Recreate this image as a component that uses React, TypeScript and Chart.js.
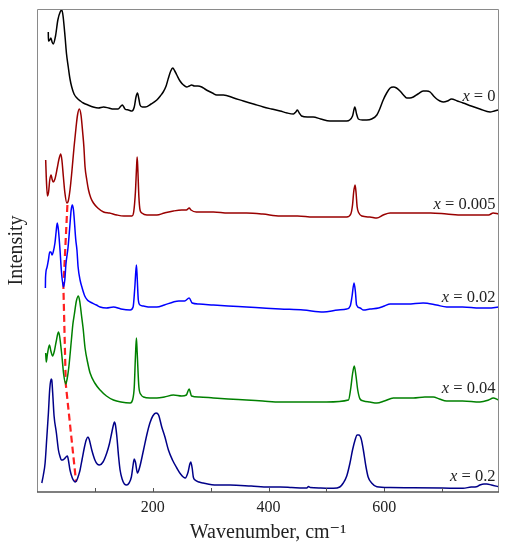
import React, { useEffect, useRef } from "react";
import { Chart, registerables } from "chart.js";

Chart.register(...registerables);

// ---- Data (wavenumber, offset intensity) ----
const wn0 = [19.5, 19.8, 22, 24, 26, 28, 32, 36, 40, 43, 45, 48.5, 51, 54, 57, 60, 64, 69, 75, 80, 88, 97, 106, 115, 124, 132, 140, 145, 147.5, 150, 152, 158, 164, 168, 171, 173.5, 176, 178, 182, 187, 197, 207, 213, 218, 223, 227, 231, 234.5, 238, 241.5, 247, 253, 258.7, 263, 267, 272, 278, 284.5, 290, 296, 303, 310.5, 316, 322, 340, 356.5, 374, 391, 405, 420, 432, 443, 447, 449.7, 453, 457, 467, 477, 490, 506, 520, 535, 540, 545, 549, 552, 555, 562, 569.6, 578, 587, 592, 598, 604, 610, 615.6, 621, 627, 633, 638.7, 644, 650, 658, 667, 673, 679, 685, 690.5, 696, 702, 709, 716, 726, 736, 750, 765, 782.5, 790, 797];
const int0 = [460, 451, 452, 454, 450, 448, 456, 472, 480, 482, 476, 455, 438, 425, 413, 405, 398, 394, 391, 389, 387, 385, 384, 385, 384, 383, 383, 386, 387, 385, 383, 382, 381, 385, 395, 399, 393, 387, 385, 385, 388, 392, 396, 400, 406, 414, 421, 424, 421, 417, 411, 407, 405, 406, 407, 406, 406, 405, 403, 401, 399, 397, 397, 397, 394, 391, 388, 385, 383, 381, 379, 378, 380, 382, 379, 376, 375, 375, 373, 371, 371, 371, 372, 376, 385, 378, 373, 372, 372, 373, 377, 383, 392, 399, 404, 405, 404, 401, 397, 394, 394, 395, 398, 401, 401, 400, 396, 393, 391, 390, 391, 393, 391, 389, 386, 383, 380, 381, 382];

const wn005 = [15, 16, 18, 20, 22, 24.4, 26, 28, 31, 35, 38, 41, 43, 45.6, 48, 51.5, 54, 57, 60, 64, 67.5, 70, 73, 76, 79, 81, 83, 86, 89, 93, 97.5, 105, 115, 125, 138, 150, 160, 164, 167, 170, 172, 173, 174, 176, 178, 181, 190, 207, 220, 235.6, 250, 258, 263, 266, 275, 290, 304.6, 330, 362, 390, 420, 450, 477, 505, 535, 542, 545, 547, 549.4, 551, 553, 556, 561, 575, 587, 598, 610, 630, 650, 680, 707.6, 735, 765, 780, 788, 797];
const int005 = [332, 315, 296, 300, 312, 317, 313, 310, 313, 324, 333, 338, 332, 315, 300, 289, 291, 302, 319, 345, 365, 377, 383, 377, 359, 345, 325, 312, 302, 294, 289, 284, 280, 279, 277, 276, 276, 276, 280, 300, 325, 335, 325, 295, 282, 279, 277, 277, 279, 281, 282, 282, 284, 282, 280, 280, 280, 279, 279, 278, 276, 276, 275, 275, 275, 278, 287, 300, 307, 300, 285, 279, 276, 275, 274, 277, 279, 279, 279, 279, 278, 277, 277, 277, 279, 278];

const wn02 = [14.5, 14.7, 17, 19.7, 22, 24, 26, 28, 31, 33, 35, 37, 40, 42, 45.6, 48, 50, 53.7, 57, 59, 61, 63, 67, 69, 71, 74.4, 78, 82.5, 87, 91.7, 102.6, 109, 120, 132, 145, 161, 166, 169, 171.7, 173, 175, 178, 184, 195, 207, 220, 235.6, 245, 255, 262.8, 268, 280, 304.6, 330, 362, 390, 420, 460, 494.6, 520, 535, 541, 544, 547.6, 550, 552, 558, 564, 575, 590, 600, 610, 640, 667, 690, 707.6, 735, 765, 780, 797];
const int02 = [204, 214, 224, 232, 240, 240, 237, 240, 249, 260, 269, 262, 240, 222, 205, 212, 228, 245, 268, 282, 287, 282, 252, 242, 225, 212, 204, 196, 192, 190, 187, 185, 184, 185, 183, 182, 185, 205, 227, 215, 192, 187, 186, 185, 185, 187, 190, 191, 191, 194, 189, 188, 187, 186, 185, 184, 183, 182, 180, 182, 183, 186, 195, 209, 200, 187, 184, 182, 183, 184, 186, 188, 188, 189, 187, 185, 185, 184, 184, 185];

const wn04 = [15, 16, 18, 21.5, 24, 27, 30, 33, 37, 39, 43, 46, 49.7, 52, 55, 59.4, 62, 64.6, 68, 71.5, 74, 77, 79.6, 83, 88, 91.7, 99.8, 109, 120, 132, 145, 161, 165, 168, 170, 171.7, 173, 176, 180, 184, 195, 207, 220, 235.6, 250, 258, 262.7, 267, 280, 304.6, 330, 362, 390, 420, 460, 500, 538, 542, 545, 548, 551, 554, 558, 564, 575, 587, 600, 615.6, 635, 650, 670, 684.5, 695, 707.6, 735, 765, 780, 788, 797];
const int04 = [139, 130, 138, 147, 141, 136, 141, 150, 160, 156, 136, 118, 108, 113, 125, 152, 168, 178, 191, 196, 190, 176, 164, 144, 128, 119, 109, 102, 96, 92, 90, 89, 92, 105, 135, 154, 140, 105, 97, 95, 94, 94, 95, 97, 96, 97, 103, 96, 95, 94, 93, 92, 91, 90, 90, 90, 92, 104, 118, 126, 116, 102, 93, 91, 90, 89, 91, 94, 94, 94, 95, 95, 93, 91, 91, 90, 92, 94, 92];

const wn2 = [8.3, 11, 14, 17, 19.7, 22, 24.4, 25.5, 27, 29.5, 33.5, 37, 40, 42, 44, 47, 50, 52.5, 54.5, 57, 61, 64, 66.3, 69, 72, 74.4, 78, 82, 85, 88, 90, 94.6, 100, 104, 108, 114, 120.5, 125, 129, 132, 133.7, 135.5, 138, 141, 143.5, 147, 151, 155, 159, 163, 166, 168, 170, 173.5, 177, 184, 190, 195, 200, 205.6, 210, 215.5, 221, 227, 234, 241.5, 248, 256, 261, 264, 265.6, 268, 270, 273, 280, 287, 310, 333.5, 370, 400, 420, 440, 460, 466, 469, 472, 490, 512, 523, 529, 535, 540.6, 545, 549.4, 553, 556, 560, 563.7, 568, 572, 578, 587, 610, 650, 700, 736, 750, 759, 765, 772, 777, 785, 797];
const int2 = [9, 17, 29, 55, 79, 103, 113, 112, 100, 76, 59, 42, 35, 32, 32, 33, 35, 36, 31, 22, 14, 11, 10, 12, 17, 22, 33, 45, 52, 55, 53, 42, 32, 28, 27, 30, 39, 48, 59, 67, 70, 67, 55, 35, 22, 13, 8, 7, 9, 15, 27, 33, 30, 19, 24, 42, 58, 69, 76, 79, 77, 65, 55, 42, 32, 24, 18, 14, 20, 28, 30, 24, 15, 12, 10, 9, 7, 7, 6, 5, 5, 4.5, 4, 4, 5.5, 4.5, 4, 3.7, 5, 9, 16, 29, 42, 52, 57, 57, 53, 42, 26, 15, 9, 5.3, 4.5, 4.3, 4, 3.7, 5, 5.3, 7, 8, 8, 7, 5.3];

// dashed guide through the minima
const wnGuide = [52.5, 45.6, 49.7, 67.5];
const intGuide = [287, 205, 108, 10];

const seriesNames = ["x = 0", "x = 0.005", "x = 0.02", "x = 0.04", "x = 0.2"];
const seriesColors = ["#000000", "#990000", "#0000ff", "#008000", "#000088"];
const labelAnchorY = [395, 287, 194, 103, 15];
const labelAnchorWn = 792;

const xMin = 0;
const xMax = 798;
const yMin = 0;
const yMax = 483;
const xTicks = [100, 200, 300, 400, 500, 600, 700];
const xLabeled = [200, 400, 600];

const SERIF = "'Liberation Serif', 'DejaVu Serif', serif";

function pts(xs: number[], ys: number[]) {
  return xs.map((x, i) => ({ x, y: ys[i] }));
}

const framePlugin = {
  id: "frame",
  afterDatasetsDraw(chart: any) {
    const { ctx, chartArea, scales } = chart;
    const { left, right, top, bottom } = chartArea;
    ctx.save();
    ctx.strokeStyle = "#8a8a8a";
    ctx.lineWidth = 1;
    ctx.beginPath();
    ctx.moveTo(left + 0.5, bottom);
    ctx.lineTo(left + 0.5, top + 0.5);
    ctx.lineTo(right - 0.5, top + 0.5);
    ctx.lineTo(right - 0.5, bottom);
    ctx.stroke();
    ctx.strokeStyle = "#555";
    ctx.lineWidth = 1.5;
    ctx.beginPath();
    ctx.moveTo(left, bottom);
    ctx.lineTo(right, bottom);
    ctx.stroke();
    ctx.lineWidth = 1;
    ctx.beginPath();
    for (const t of xTicks) {
      const px = Math.round(scales.x.getPixelForValue(t)) + 0.5;
      ctx.moveTo(px, bottom);
      ctx.lineTo(px, bottom - 4);
    }
    ctx.stroke();

    // series labels
    ctx.fillStyle = "#222";
    ctx.textBaseline = "middle";
    const xr = scales.x.getPixelForValue(labelAnchorWn);
    seriesNames.forEach((name, i) => {
      const y = scales.y.getPixelForValue(labelAnchorY[i]);
      const rest = name.slice(1);
      ctx.font = `16.5px ${SERIF}`;
      ctx.textAlign = "right";
      ctx.fillText(rest, xr, y);
      const w = ctx.measureText(rest).width;
      ctx.font = `italic 16.5px ${SERIF}`;
      ctx.fillText(name[0], xr - w, y);
    });
    ctx.restore();
  },
};

export default function App() {
  const ref = useRef<HTMLCanvasElement>(null);
  useEffect(() => {
    if (!ref.current) return;
    const series = [
      [wn0, int0],
      [wn005, int005],
      [wn02, int02],
      [wn04, int04],
      [wn2, int2],
    ];
    const datasets: any[] = series.map(([xs, ys], i) => ({
      label: seriesNames[i],
      data: pts(xs, ys),
      borderColor: seriesColors[i],
      borderWidth: 1.5,
      pointRadius: 0,
      cubicInterpolationMode: "monotone",
      fill: false,
    }));
    datasets.push({
      label: "guide",
      data: pts(wnGuide, intGuide),
      borderColor: "#ff2020",
      borderWidth: 2.2,
      borderDash: [7, 4],
      pointRadius: 0,
      tension: 0,
      fill: false,
    });
    const chart = new Chart(ref.current, {
      type: "line",
      data: { datasets },
      plugins: [framePlugin],
      options: {
        animation: false,
        responsive: false,
        parsing: false,
        layout: { padding: { left: 1, right: 10, top: 9, bottom: 0 } },
        plugins: { legend: { display: false }, tooltip: { enabled: false } },
        scales: {
          x: {
            type: "linear",
            min: xMin,
            max: xMax,
            grid: { display: false, drawTicks: false },
            border: { display: false },
            afterBuildTicks: (scale: any) => {
              scale.ticks = xLabeled.map((v) => ({ value: v }));
            },
            ticks: {
              autoSkip: false,
              maxRotation: 0,
              padding: 6.4,
              color: "#222",
              font: { family: SERIF, size: 16, lineHeight: 1.2 },
            },
            title: {
              display: true,
              text: "Wavenumber, cm⁻¹",
              color: "#222",
              font: { family: SERIF, size: 20, lineHeight: 0.85 },
              padding: { top: 0, bottom: 9 },
            },
          },
          y: {
            type: "linear",
            min: yMin,
            max: yMax,
            grid: { display: false, drawTicks: false },
            border: { display: false },
            ticks: { display: false },
            title: {
              display: true,
              text: "Intensity",
              color: "#222",
              font: { family: SERIF, size: 20 },
              padding: { top: 4, bottom: 8 },
            },
          },
        },
      },
    });
    return () => chart.destroy();
  }, []);
  return (
    <div style={{ position: "fixed", left: 0, top: 0, width: 509, height: 550, background: "#fff" }}>
      <canvas ref={ref} width={509} height={550} />
    </div>
  );
}
